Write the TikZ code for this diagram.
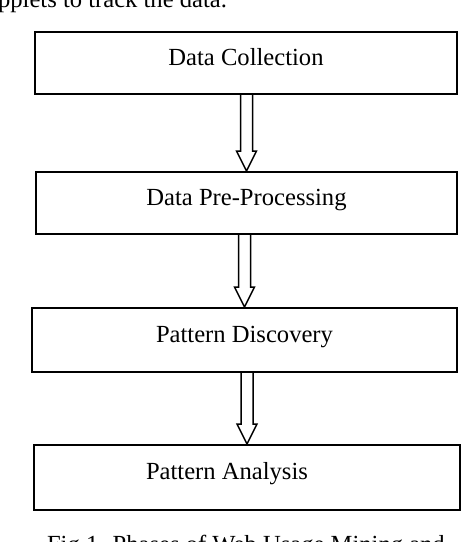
\documentclass[tikz,border=0pt]{standalone}
\usepackage{fontspec}
\setmainfont{Liberation Serif}
\usetikzlibrary{calc}
\tikzset{
  phase/.style={draw,line width=1pt,minimum height=31pt,inner sep=0pt,text height=8pt,text depth=6pt},
  flow/.style={line width=0.75pt,line join=miter},
}
% hollow double-line arrow from one phase box down to the next
\newcommand{\flowarrow}[2]{%
  \draw[flow] ($(#1.south -| #2.north)+(-6,0)$) -- ($(#2.north)+(-6,-20)$) -- ++(-4,0) -- (#2.north)
    -- ++(10,-20) -- ++(-4,0) -- ($(#1.south -| #2.north)+(6,0)$);}
\begin{document}
\begin{tikzpicture}[x=0.5pt,y=-0.5pt,font=\fontsize{12.3pt}{14pt}\selectfont]
  \clip (0,0) rectangle (474,542);
  \node[anchor=base east] (lead) at (234,7) {applets to track the data.};
  \node[phase,minimum width=211pt] (dc) at (246,63) {Data Collection};
  \node[phase,minimum width=210.5pt] (dpp) at (246.5,203) {Data Pre-Processing};
  \node[phase,minimum width=212.5pt,minimum height=32pt] (pd) at (244.5,340) {Pattern Discovery};
  \node[phase,minimum width=213pt,minimum height=32.5pt] (pa) at (247,477.5) {Pattern Analysis\hspace*{20pt}};
  \node[anchor=base west] (cap) at (40,552) {Fig 1. Phases of Web Usage Mining and};
  \flowarrow{dc}{dpp}
  \flowarrow{dpp}{pd}
  \flowarrow{pd}{pa}
\end{tikzpicture}
\end{document}
